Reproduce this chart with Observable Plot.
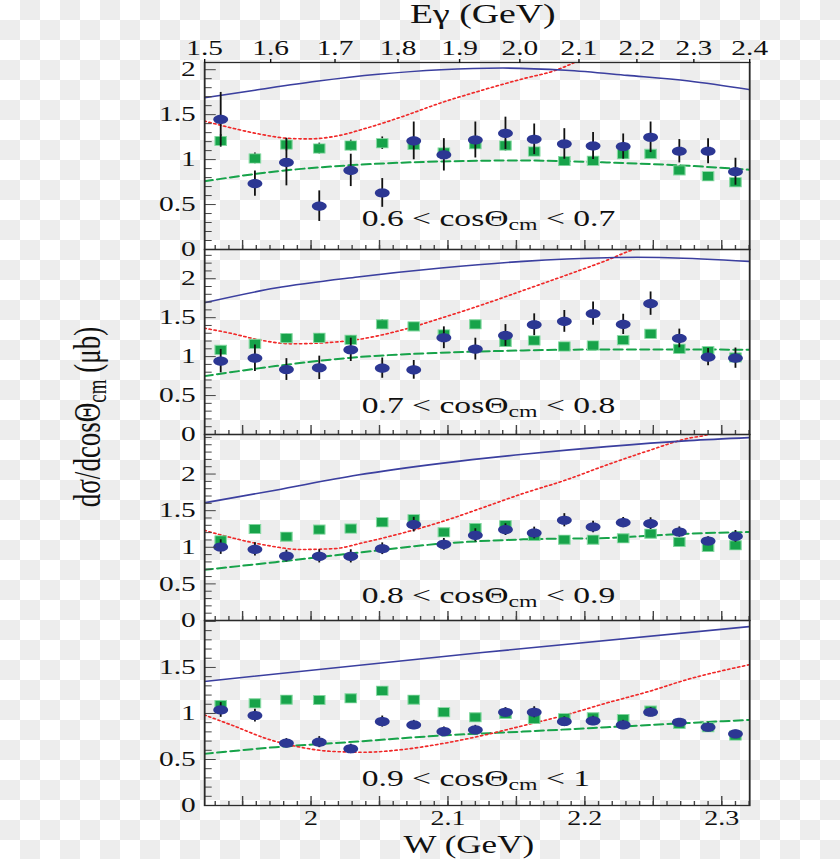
<!DOCTYPE html>
<html><head><meta charset="utf-8">
<script src="https://cdn.jsdelivr.net/npm/d3@7"></script>
<script src="https://cdn.jsdelivr.net/npm/@observablehq/plot@0.6"></script>
<style>
html,body{margin:0;padding:0;}
body{width:840px;height:859px;overflow:hidden;position:relative;
 background: repeating-conic-gradient(#ededed 0 25%, #ffffff 0 50%) 0 0 / 40px 40px;}
#wrap{position:absolute;left:0;top:0;width:600px;height:859px;transform:scaleX(1.4);transform-origin:0 0;}
#wrap svg{display:block;}
#ytitle{position:absolute;left:63px;top:417px;transform:translate(-50%,-50%) rotate(-90deg);
 font-family:'Liberation Serif','Times New Roman',serif;font-size:27px;white-space:nowrap;color:#111;}
#ytitle span{font-size:70%;position:relative;top:4px;}
</style></head>
<body>
<div id="wrap"><div id="ytitle">dσ/dcosΘ<span>cm</span> (μb)</div></div>
<script>
// ---- data ----
const W = [1.934, 1.959, 1.982, 2.006, 2.029, 2.052, 2.075, 2.097, 2.120, 2.142, 2.163, 2.185, 2.206, 2.228, 2.248, 2.269, 2.290, 2.310];
const eGammaLabels = ["1.5","1.6","1.7","1.8","1.9","2.0","2.1","2.2","2.3","2.4"];
const eGammaTickW = [1.9223, 1.9705, 2.0175, 2.0635, 2.1085, 2.1525, 2.1957, 2.2380, 2.2796, 2.3204];
const wTickLabels = [2, 2.1, 2.2, 2.3];
const panelLabels = ["0.6 < cosΘcm < 0.7", "0.7 < cosΘcm < 0.8", "0.8 < cosΘcm < 0.9", "0.9 < cosΘcm < 1"];

const p1BlueV = [1.447, 0.733, 0.968, 0.482, 0.880, 0.629, 1.208, 1.053, 1.218, 1.292, 1.226, 1.174, 1.152, 1.145, 1.248, 1.093, 1.093, 0.865];
const p1BlueE = [0.30, 0.14, 0.26, 0.17, 0.18, 0.16, 0.21, 0.18, 0.20, 0.18, 0.17, 0.17, 0.15, 0.14, 0.17, 0.13, 0.14, 0.15];
const p1GreenV = [1.208, 1.013, 1.167, 1.123, 1.156, 1.182, 1.163, 1.079, 1.171, 1.156, 1.090, 0.983, 0.987, 1.060, 1.064, 0.880, 0.814, 0.748];
const p1GreenE = [0.07, 0.06, 0.07, 0.06, 0.06, 0.07, 0.06, 0.06, 0.06, 0.06, 0.05, 0.05, 0.05, 0.05, 0.05, 0.05, 0.04, 0.04];
const p1SolidW = [1.922, 1.959, 2.004, 2.049, 2.095, 2.140, 2.186, 2.231, 2.276, 2.320];
const p1SolidV = [1.687, 1.772, 1.871, 1.949, 2.000, 2.018, 1.993, 1.937, 1.875, 1.779];
const p1DotW = [1.922, 1.943, 1.962, 1.983, 1.998, 2.019, 2.040, 2.065, 2.095, 2.125, 2.155, 2.178, 2.198];
const p1DotV = [1.429, 1.348, 1.285, 1.237, 1.230, 1.263, 1.348, 1.469, 1.632, 1.772, 1.900, 1.990, 2.120];
const p1DashW = [1.922, 1.974, 2.034, 2.095, 2.155, 2.216, 2.276, 2.320];
const p1DashV = [0.758, 0.868, 0.942, 0.979, 0.990, 0.968, 0.931, 0.887];

const p2BlueV = [0.942, 0.980, 0.834, 0.856, 1.087, 0.852, 0.830, 1.242, 1.096, 1.271, 1.409, 1.452, 1.551, 1.414, 1.680, 1.233, 0.993, 0.980];
const p2BlueE = [0.15, 0.17, 0.14, 0.15, 0.15, 0.13, 0.12, 0.14, 0.14, 0.14, 0.14, 0.14, 0.15, 0.13, 0.15, 0.12, 0.11, 0.13];
const p2GreenV = [1.087, 1.164, 1.237, 1.242, 1.216, 1.414, 1.388, 1.285, 1.414, 1.186, 1.207, 1.130, 1.143, 1.211, 1.293, 1.100, 1.070, 0.990];
const p2GreenE = [0.05, 0.05, 0.05, 0.05, 0.05, 0.06, 0.05, 0.05, 0.05, 0.05, 0.04, 0.04, 0.04, 0.04, 0.04, 0.04, 0.04, 0.04];
const p2SolidW = [1.922, 1.974, 2.034, 2.095, 2.155, 2.216, 2.238, 2.261, 2.320];
const p2SolidV = [1.691, 1.880, 2.022, 2.137, 2.223, 2.270, 2.275, 2.270, 2.223];
const p2DotW = [1.922, 1.943, 1.962, 1.986, 2.010, 2.034, 2.065, 2.095, 2.125, 2.155, 2.186, 2.216, 2.236, 2.245];
const p2DotV = [1.365, 1.293, 1.215, 1.164, 1.177, 1.219, 1.335, 1.494, 1.665, 1.850, 2.043, 2.236, 2.377, 2.420];
const p2DashW = [1.922, 1.974, 2.034, 2.095, 2.155, 2.216, 2.276, 2.320];
const p2DashV = [0.749, 0.878, 0.993, 1.049, 1.079, 1.092, 1.092, 1.087];

const p3BlueV = [1.003, 0.971, 0.880, 0.876, 0.876, 0.980, 1.309, 1.040, 1.163, 1.241, 1.195, 1.369, 1.277, 1.337, 1.323, 1.208, 1.085, 1.149];
const p3BlueE = [0.10, 0.09, 0.08, 0.09, 0.09, 0.08, 0.10, 0.08, 0.09, 0.08, 0.08, 0.09, 0.08, 0.07, 0.08, 0.07, 0.06, 0.08];
const p3GreenV = [1.094, 1.250, 1.145, 1.241, 1.255, 1.341, 1.382, 1.204, 1.264, 1.300, 1.153, 1.104, 1.104, 1.122, 1.186, 1.072, 1.003, 1.026];
const p3GreenE = [0.05, 0.04, 0.04, 0.04, 0.04, 0.05, 0.05, 0.04, 0.04, 0.04, 0.04, 0.04, 0.04, 0.04, 0.04, 0.04, 0.04, 0.04];
const p3SolidW = [1.922, 1.974, 2.034, 2.095, 2.155, 2.216, 2.276, 2.320];
const p3SolidV = [1.606, 1.780, 1.986, 2.146, 2.270, 2.375, 2.456, 2.497];
const p3DotW = [1.922, 1.943, 1.968, 1.992, 2.016, 2.040, 2.065, 2.095, 2.125, 2.155, 2.186, 2.216, 2.246, 2.276, 2.289, 2.298];
const p3DotV = [1.231, 1.126, 1.025, 0.970, 0.980, 1.071, 1.186, 1.346, 1.538, 1.735, 1.918, 2.124, 2.316, 2.490, 2.535, 2.600];
const p3DashW = [1.922, 1.974, 2.034, 2.095, 2.155, 2.216, 2.276, 2.320];
const p3DashV = [0.692, 0.797, 0.925, 1.049, 1.108, 1.127, 1.186, 1.208];

const p4BlueV = [1.038, 0.977, 0.677, 0.688, 0.616, 0.912, 0.875, 0.803, 0.821, 1.013, 1.013, 0.912, 0.919, 0.875, 1.013, 0.904, 0.850, 0.778];
const p4BlueE = [0.08, 0.07, 0.05, 0.06, 0.05, 0.06, 0.05, 0.05, 0.05, 0.05, 0.06, 0.05, 0.05, 0.05, 0.05, 0.04, 0.05, 0.04];
const p4GreenV = [1.092, 1.110, 1.150, 1.146, 1.164, 1.247, 1.150, 1.013, 0.958, 0.995, 0.940, 0.948, 0.958, 0.940, 1.031, 0.886, 0.850, 0.760];
const p4GreenE = [0.04, 0.04, 0.04, 0.04, 0.04, 0.04, 0.04, 0.04, 0.03, 0.03, 0.03, 0.03, 0.03, 0.03, 0.03, 0.03, 0.03, 0.03];
const p4SolidW = [1.922, 2.125, 2.320];
const p4SolidV = [1.348, 1.662, 1.944];
const p4DotW = [1.922, 1.943, 1.968, 1.992, 2.016, 2.040, 2.065, 2.095, 2.125, 2.155, 2.186, 2.216, 2.246, 2.276, 2.320];
const p4DotV = [0.984, 0.868, 0.724, 0.634, 0.587, 0.579, 0.605, 0.670, 0.760, 0.868, 0.984, 1.114, 1.236, 1.374, 1.529];
const p4DashW = [1.922, 1.974, 2.034, 2.095, 2.155, 2.216, 2.276, 2.320];
const p4DashV = [0.561, 0.634, 0.695, 0.760, 0.803, 0.850, 0.897, 0.930];

const yMajor = [0, 0.5, 1, 1.5, 2];
const yMinor = [0.1,0.2,0.3,0.4,0.6,0.7,0.8,0.9,1.1,1.2,1.3,1.4,1.6,1.7,1.8,1.9,2.1,2.2,2.3,2.4,2.5];

// ---- layout ----
const PW = 600, ML = 145.7, MR = 65;
const innerW = PW - ML - MR;
const xDomain = [1.9223, 2.3204];
const font = "'Liberation Serif','Times New Roman',serif";
const BLUE = "#2c3793", LINEBLUE = "#3b3f9f", RED = "#f02828", GREEN = "#17a34a";

const ellipseSym = {draw(ctx) {
  const rx = 5.3, ry = 4.6;
  for (let i = 0; i <= 40; i++) {
    const a = i / 40 * 2 * Math.PI, x = rx * Math.cos(a), y = ry * Math.sin(a);
    if (i === 0) ctx.moveTo(x, y); else ctx.lineTo(x, y);
  }
  ctx.closePath();
}};
const rectSym = {draw(ctx) {
  ctx.moveTo(-4.1, -4.6); ctx.lineTo(4.1, -4.6); ctx.lineTo(4.1, 4.6); ctx.lineTo(-4.1, 4.6); ctx.closePath();
}};

const panels = [
  {blue: p1BlueV, blueE: p1BlueE, green: p1GreenV, greenE: p1GreenE, sW: p1SolidW, sV: p1SolidV, dW: p1DotW, dV: p1DotV, gW: p1DashW, gV: p1DashV,
   label: panelLabels[0], labelY: 0.35, top: 62, inner: 187, bottom: 0, ymax: 2.08, yTicks: [0,0.5,1,1.5,2], topAxis: true},
  {blue: p2BlueV, blueE: p2BlueE, green: p2GreenV, greenE: p2GreenE, sW: p2SolidW, sV: p2SolidV, dW: p2DotW, dV: p2DotV, gW: p2DashW, gV: p2DashV,
   label: panelLabels[1], labelY: 0.37, top: 0, inner: 185, bottom: 0, ymax: 2.375, yTicks: [0,0.5,1,1.5,2]},
  {blue: p3BlueV, blueE: p3BlueE, green: p3GreenV, greenE: p3GreenE, sW: p3SolidW, sV: p3SolidV, dW: p3DotW, dV: p3DotV, gW: p3DashW, gV: p3DashV,
   label: panelLabels[2], labelY: 0.34, top: 0, inner: 186, bottom: 0, ymax: 2.54, yTicks: [0,0.5,1,1.5,2]},
  {blue: p4BlueV, blueE: p4BlueE, green: p4GreenV, greenE: p4GreenE, sW: p4SolidW, sV: p4SolidV, dW: p4DotW, dV: p4DotV, gW: p4DashW, gV: p4DashV,
   label: panelLabels[3], labelY: 0.29, top: 0, inner: 185, bottom: 54, ymax: 2.01, yTicks: [0,0.5,1,1.5], bottomAxis: true}
];

const wMinor = d3.range(1.93, 2.3245, 0.01);
const wMajor = d3.range(1.95, 2.32, 0.05);
const eLabel = new Map(eGammaTickW.map((w, i) => [w, eGammaLabels[i]]));

const wrap = document.getElementById("wrap");
for (const p of panels) {
  const pts = (vals, errs) => W.map((w, i) => ({w, v: vals[i], e: errs[i]}));
  const blue = pts(p.blue, p.blueE), green = pts(p.green, p.greenE);
  const line = (ws, vs) => ws.map((w, i) => ({w, v: vs[i]}));
  const majors = yMajor.filter(d => d < p.ymax);
  const minors = yMinor.filter(d => d < p.ymax);
  const marks = [
    Plot.line(line(p.gW, p.gV), {x: "w", y: "v", stroke: GREEN, strokeWidth: 2, strokeDasharray: "6,3.5", curve: "monotone-x", clip: true}),
    Plot.line(line(p.dW, p.dV), {x: "w", y: "v", stroke: RED, strokeWidth: 1.6, strokeDasharray: "1.3,2.4", curve: "monotone-x", clip: true}),
    Plot.line(line(p.sW, p.sV), {x: "w", y: "v", stroke: LINEBLUE, strokeWidth: 1.6, curve: "monotone-x", clip: true}),
    Plot.ruleX(green, {x: "w", y1: d => d.v - d.e, y2: d => d.v + d.e, stroke: "#111", strokeWidth: 1.2}),
    Plot.dot(green, {x: "w", y: "v", symbol: rectSym, fill: GREEN, stroke: "#86d9a2", strokeWidth: 0.8}),
    Plot.ruleX(blue, {x: "w", y1: d => d.v - d.e, y2: d => d.v + d.e, stroke: "#111", strokeWidth: 1.3}),
    Plot.dot(blue, {x: "w", y: "v", symbol: ellipseSym, fill: BLUE, stroke: "none"}),
    Plot.text([p.label], {x: 2.037, y: p.labelY, text: d => d, textAnchor: "start", fontSize: 24, fill: "#111"}),
    Plot.tickY(majors, {y: d => d, insetRight: innerW - 8.4, stroke: "#444", strokeWidth: 1}),
    Plot.tickY(minors, {y: d => d, insetRight: innerW - 5.5, stroke: "#444", strokeWidth: 1}),
    Plot.tickX(wMinor, {x: d => d, insetTop: p.inner - 4, stroke: "#444", strokeWidth: 1}),
    Plot.tickX(wMajor, {x: d => d, insetTop: p.inner - 9, stroke: "#444", strokeWidth: 1}),
    Plot.axisY(p.yTicks, {anchor: "left", label: null, tickSize: 0, tickPadding: 6.4, fontSize: 21, tickFormat: d => String(d)}),
    Plot.frame({stroke: "#2a2a2a", strokeWidth: 1.3})
  ];
  if (p.topAxis) {
    marks.push(Plot.axisX(eGammaTickW, {anchor: "top", label: null, tickSize: 4, tickPadding: 4, fontSize: 21, tickFormat: d => eLabel.get(d)}));
    marks.push(Plot.text(["Eγ (GeV)"], {frameAnchor: "top", lineAnchor: "middle", dy: -48, dx: 4, text: d => d, fontSize: 27, fill: "#111"}));
  }
  if (p.bottomAxis) {
    marks.push(Plot.axisX(wTickLabels, {anchor: "bottom", label: null, tickSize: 0, tickPadding: 5, fontSize: 20, tickFormat: d => String(d)}));
    marks.push(Plot.text(["W (GeV)"], {frameAnchor: "bottom", lineAnchor: "middle", dy: 39, dx: -6, text: d => d, fontSize: 25, fill: "#111"}));
  }
  const svg = Plot.plot({
    width: PW, height: p.top + p.inner + p.bottom,
    marginLeft: ML, marginRight: MR, marginTop: p.top, marginBottom: p.bottom,
    x: {domain: xDomain, axis: null},
    y: {domain: [0, p.ymax], axis: null},
    style: {fontFamily: font, background: "transparent", overflow: "visible", color: "#111"},
    marks
  });
  wrap.appendChild(svg);
}

// subscript "cm" in panel labels
const NS = "http://www.w3.org/2000/svg";
for (const t of wrap.querySelectorAll("text")) {
  const s = t.textContent, k = s.indexOf("Θcm");
  if (k < 0 || t.children.length) continue;
  t.textContent = "";
  t.append(s.slice(0, k + 1));
  const a = document.createElementNS(NS, "tspan");
  a.setAttribute("font-size", "17"); a.setAttribute("dy", "4"); a.textContent = "cm";
  const b = document.createElementNS(NS, "tspan");
  b.setAttribute("dy", "-4"); b.textContent = s.slice(k + 3);
  t.append(a, b);
}
</script>
</body></html>
